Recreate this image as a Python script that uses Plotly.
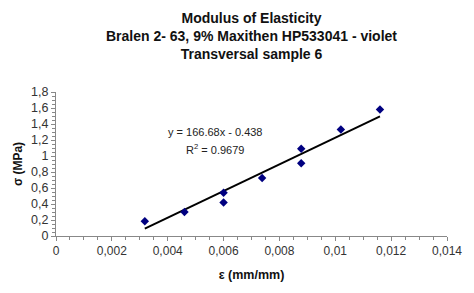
import plotly.graph_objects as go

# Data
strain = [0.00318, 0.0046, 0.0060, 0.0060, 0.00738, 0.00878, 0.00878, 0.0102, 0.0116]
stress = [0.184, 0.30, 0.54, 0.42, 0.725, 1.09, 0.91, 1.33, 1.58]
slope = 166.68
intercept = -0.438
r2 = 0.9679

x_tickvals = [0, 0.002, 0.004, 0.006, 0.008, 0.010, 0.012, 0.014]
x_ticktext = ["0", "0,002", "0,004", "0,006", "0,008", "0,01", "0,012", "0,014"]
y_tickvals = [0, 0.2, 0.4, 0.6, 0.8, 1.0, 1.2, 1.4, 1.6, 1.8]
y_ticktext = ["0", "0,2", "0,4", "0,6", "0,8", "1", "1,2", "1,4", "1,6", "1,8"]

trend_x = [min(strain), max(strain)]
trend_y = [slope * v + intercept for v in trend_x]

font = "Liberation Sans, Arial, sans-serif"

fig = go.Figure()
fig.add_trace(go.Scatter(x=trend_x, y=trend_y, mode="lines",
                         line=dict(color="black", width=2), hoverinfo="skip"))
fig.add_trace(go.Scatter(x=strain, y=stress, mode="markers",
                         marker=dict(symbol="diamond", size=6.5, color="#000080")))

fig.update_layout(
    width=474, height=293,
    margin=dict(l=56, r=24, t=92, b=57),
    paper_bgcolor="white", plot_bgcolor="white",
    showlegend=False,
    font=dict(family=font, size=11, color="#222"),
    xaxis=dict(range=[0, 0.014], tickvals=x_tickvals, ticktext=x_ticktext,
               showgrid=False, zeroline=False, showline=True, linecolor="#888", linewidth=1,
               ticks="outside", ticklen=4, tickcolor="#888",
               minor=dict(dtick=0.0005, ticks="outside", ticklen=3, tickcolor="#888"),
               title=dict(text="<b>ε (mm/mm)</b>", font=dict(size=12.5, color="#111"), standoff=12),
               tickfont=dict(size=12, color="#333")),
    yaxis=dict(range=[0, 1.8], tickvals=y_tickvals, ticktext=y_ticktext,
               showgrid=False, zeroline=False, showline=True, linecolor="#888", linewidth=1,
               ticks="outside", ticklen=4, tickcolor="#888",
               minor=dict(dtick=0.05, ticks="outside", ticklen=3, tickcolor="#888"),
               title=dict(text="<b>σ (MPa)</b>", font=dict(size=12, color="#111"), standoff=5),
               tickfont=dict(size=12.5, color="#333")),
)

fig.add_annotation(xref="paper", yref="paper", x=0.5, y=1.0, xanchor="center", yanchor="bottom",
                   yshift=28, showarrow=False,
                   text="<b>Modulus of Elasticity<br>Bralen 2- 63, 9% Maxithen HP533041 - violet<br>Transversal sample 6</b>",
                   font=dict(family=font, size=14, color="#111"), align="center")
fig.add_annotation(x=0.0057, y=1.30, xref="x", yref="y", showarrow=False,
                   text=f"y = {slope}x - {abs(intercept)}", font=dict(size=11, color="#222"))
fig.add_annotation(x=0.0057, y=1.09, xref="x", yref="y", showarrow=False,
                   text=f"R<sup>2</sup> = {r2}", font=dict(size=11, color="#222"))

fig.write_html("out.html")
